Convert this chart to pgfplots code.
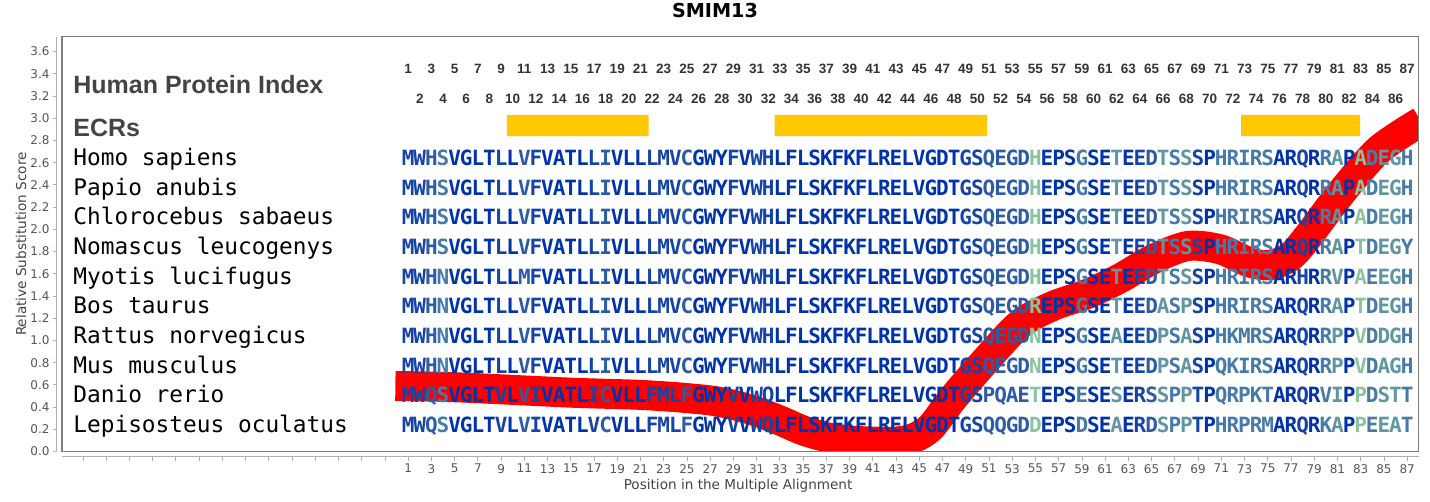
\documentclass[border=0pt]{standalone}
\usepackage{pgfplots}
\pgfplotsset{compat=1.18}
\usepackage{pgfplotstable}
\usepackage{fontspec}
\setmainfont{DejaVu Sans}
\newfontfamily\libsans{Liberation Sans}
\newfontfamily\djsans{DejaVu Sans}
\newfontfamily\djmono{DejaVu Sans Mono}
\definecolor{col0}{RGB}{0,51,170}
\definecolor{col1}{RGB}{22,68,165}
\definecolor{col2}{RGB}{45,92,165}
\definecolor{col3}{RGB}{70,122,168}
\definecolor{col4}{RGB}{96,150,160}
\definecolor{col5}{RGB}{140,195,158}
\definecolor{ecr}{RGB}{255,200,0}
\definecolor{hdr}{RGB}{68,68,68}
\definecolor{idx}{RGB}{51,51,51}
\definecolor{framegray}{RGB}{128,128,128}
\definecolor{axgray}{RGB}{175,175,175}
\definecolor{ticklab}{RGB}{85,85,85}
\newcommand\seqfont{\djmono\bfseries\fontsize{21}{21}\selectfont}
\newcommand\namefont{\djmono\fontsize{22.8}{23}\selectfont}
\newcommand\hdrfont{\libsans\bfseries\fontsize{25}{26}\selectfont}
\newcommand\idxfont{\libsans\bfseries\fontsize{13.5}{14}\selectfont}

\pgfplotstableread{
pos cls iy s1 s2 s3 s4 s5 s6 s7 s8 s9 s10
1 1 3.405 M M M M M M M M M M
2 1 3.135 W W W W W W W W W W
3 2 3.405 H H H H H H H H Q Q
4 3 3.135 S S S S N N N N S S
5 0 3.405 V V V V V V V V V V
6 0 3.135 G G G G G G G G G G
7 0 3.405 L L L L L L L L L L
8 0 3.135 T T T T T T T T T T
9 1 3.405 L L L L L L L L V V
10 0 3.135 L L L L L L L L L L
11 2 3.405 V V V V M V V V V V
12 1 3.135 F F F F F F F F I I
13 0 3.405 V V V V V V V V V V
14 0 3.135 A A A A A A A A A A
15 0 3.405 T T T T T T T T T T
16 0 3.135 L L L L L L L L L L
17 1 3.405 L L L L L L L L I V
18 2 3.135 I I I I I I I I C C
19 0 3.405 V V V V V V V V V V
20 0 3.135 L L L L L L L L L L
21 0 3.405 L L L L L L L L L L
22 1 3.135 L L L L L L L L F F
23 1 3.405 M M M M M M M M M M
24 1 3.135 V V V V V V V V L L
25 2 3.405 C C C C C C C C F F
26 0 3.135 G G G G G G G G G G
27 0 3.405 W W W W W W W W W W
28 0 3.135 Y Y Y Y Y Y Y Y Y Y
29 1 3.405 F F F F F F F F V V
30 0 3.135 V V V V V V V V V V
31 1 3.405 W W W W W W W W W W
32 1 3.135 H H H H H H H H Q Q
33 0 3.405 L L L L L L L L L L
34 0 3.135 F F F F F F F F F F
35 0 3.405 L L L L L L L L L L
36 0 3.135 S S S S S S S S S S
37 0 3.405 K K K K K K K K K K
38 0 3.135 F F F F F F F F F F
39 0 3.405 K K K K K K K K K K
40 0 3.135 F F F F F F F F F F
41 0 3.405 L L L L L L L L L L
42 0 3.135 R R R R R R R R R R
43 0 3.405 E E E E E E E E E E
44 0 3.135 L L L L L L L L L L
45 0 3.405 V V V V V V V V V V
46 0 3.135 G G G G G G G G G G
47 0 3.405 D D D D D D D D D D
48 0 3.135 T T T T T T T T T T
49 1 3.405 G G G G G G G G G G
50 1 3.135 S S S S S S S S S S
51 2 3.405 Q Q Q Q Q Q Q Q P Q
52 2 3.135 E E E E E E E E Q Q
53 2 3.405 G G G G G G G G A G
54 2 3.135 D D D D D D D D E D
55 5 3.405 H H H H H R N N T D
56 0 3.135 E E E E E E E E E E
57 0 3.405 P P P P P P P P P P
58 0 3.135 S S S S S S S S S S
59 3 3.405 G G G G G G G G E D
60 0 3.135 S S S S S S S S S S
61 0 3.405 E E E E E E E E E E
62 4 3.135 T T T T T T A T S A
63 0 3.405 E E E E E E E E E E
64 1 3.135 E E E E E E E E R R
65 2 3.405 D D D D D D D D S D
66 4 3.135 T T T T T A P P S S
67 3 3.405 S S S S S S S S P P
68 4 3.135 S S S S S P A A P P
69 1 3.405 S S S S S S S S T T
70 0 3.135 P P P P P P P P P P
71 3 3.405 H H H H H H H Q Q H
72 3 3.135 R R R R R R K K R R
73 3 3.405 I I I I I I M I P P
74 3 3.135 R R R R R R R R K R
75 3 3.405 S S S S S S S S T M
76 0 3.135 A A A A A A A A A A
77 0 3.405 R R R R R R R R R R
78 1 3.135 Q Q Q Q H Q Q Q Q Q
79 0 3.405 R R R R R R R R R R
80 3 3.135 R R R R R R R R V K
81 4 3.405 A A A A V A P P I A
82 0 3.135 P P P P P P P P P P
83 5 3.405 A A A T A T V V P P
84 3 3.135 D D D D E D D D D E
85 4 3.405 E E E E E E D A S E
86 4 3.135 G G G G G G G G T A
87 3 3.405 H H H Y H H H H T T
}\seqtab

\pgfplotstableset{
  create on use/y1/.style={create col/set={2.574}},
  create on use/y2/.style={create col/set={2.307}},
  create on use/y3/.style={create col/set={2.040}},
  create on use/y4/.style={create col/set={1.773}},
  create on use/y5/.style={create col/set={1.506}},
  create on use/y6/.style={create col/set={1.240}},
  create on use/y7/.style={create col/set={0.973}},
  create on use/y8/.style={create col/set={0.706}},
  create on use/y9/.style={create col/set={0.439}},
  create on use/y10/.style={create col/set={0.172}},
}

\newcommand\seqletter[1]{\pgfplotstablegetelem{#1}{cls}\of\seqtab\textcolor{col\pgfplotsretval}{\pgfplotspointmeta}}

\pgfplotsset{
  seqrow/.style={
    draw=none, mark=none,
    point meta=explicit symbolic,
    visualization depends on={value \coordindex \as \myidx},
    nodes near coords={\seqletter{\myidx}},
    nodes near coords style={anchor=base, inner sep=0pt, font=\seqfont},
  },
}

\begin{document}
\begin{tikzpicture}
\begin{axis}[
  x=11.616pt, y=111.11pt,
  xmin=-28.8, xmax=88, ymin=0, ymax=3.735,
  axis lines=left,
  axis line style={-, draw=axgray, line width=1pt},
  axis line shift=5pt,
  xtick={1,3,...,87},
  minor xtick={-27,-25,...,-1},
  ytick={0,0.2,0.4,0.6,0.8,1.0,1.2,1.4,1.6,1.8,2.0,2.2,2.4,2.6,2.8,3.0,3.2,3.4,3.6},
  tick align=outside,
  major tick length=4pt, minor tick length=4pt,
  tick style={draw=axgray, line width=0.8pt},
  tick label style={font=\djsans\fontsize{12}{12}\selectfont, text=ticklab},
  /pgf/number format/assume math mode=true,
  yticklabel style={/pgf/number format/.cd, fixed, fixed zerofill, precision=1},
  xlabel={Position in the Multiple Alignment},
  ylabel={Relative Substitution Score},
  label style={font=\djsans\fontsize{13.6}{14}\selectfont, text=hdr},
  xlabel style={at={(axis description cs:0.4983,-0.0916)}, anchor=base},
  ylabel style={at={(axis description cs:-0.0265,0.5)}, anchor=base},
  title={SMIM13},
  title style={at={(axis description cs:0.4813,1.0313)}, anchor=base, font=\djsans\bfseries\fontsize{19.2}{20}\selectfont},
  clip=true,
  after end axis/.code={\draw[framegray, line width=1.3pt] (rel axis cs:0,0) rectangle (rel axis cs:1,1);},
]
% ECR bars
\addplot[fill=ecr, draw=none] coordinates {(9.5,2.84) (21.7,2.84) (21.7,3.03) (9.5,3.03) (9.5,2.84)};
\addplot[fill=ecr, draw=none] coordinates {(32.55,2.84) (50.85,2.84) (50.85,3.03) (32.55,3.03) (32.55,2.84)};
\addplot[fill=ecr, draw=none] coordinates {(72.7,2.84) (82.95,2.84) (82.95,3.03) (72.7,3.03) (72.7,2.84)};
% relative substitution score
\addplot[red, line width=30pt, smooth] table {
x y
-0.1 0.59
3 0.585
6 0.575
9 0.56
12 0.545
15 0.53
18 0.52
21 0.51
24 0.49
27 0.46
29 0.42
31 0.36
33 0.28
35 0.19
37 0.13
39 0.10
41 0.09
43 0.09
44.5 0.12
46 0.22
47.9 0.48
50.8 0.83
53.7 1.15
56.5 1.31
59.5 1.42
62.3 1.56
65.1 1.73
68.1 1.85
70.9 1.82
73.5 1.70
75.3 1.68
77 1.76
78.5 1.94
80.5 2.22
82.5 2.48
84.5 2.71
86.5 2.86
88.2 2.97
};
% human protein index
\addplot[draw=none, mark=none, point meta=explicit symbolic, nodes near coords,
  nodes near coords style={anchor=base, inner sep=0pt, font=\idxfont, text=idx}]
  table[x=pos, y=iy, meta=pos] {\seqtab};
% sequences
\addplot[seqrow] table[x=pos, y=y1, meta=s1] {\seqtab};
\addplot[seqrow] table[x=pos, y=y2, meta=s2] {\seqtab};
\addplot[seqrow] table[x=pos, y=y3, meta=s3] {\seqtab};
\addplot[seqrow] table[x=pos, y=y4, meta=s4] {\seqtab};
\addplot[seqrow] table[x=pos, y=y5, meta=s5] {\seqtab};
\addplot[seqrow] table[x=pos, y=y6, meta=s6] {\seqtab};
\addplot[seqrow] table[x=pos, y=y7, meta=s7] {\seqtab};
\addplot[seqrow] table[x=pos, y=y8, meta=s8] {\seqtab};
\addplot[seqrow] table[x=pos, y=y9, meta=s9] {\seqtab};
\addplot[seqrow] table[x=pos, y=y10, meta=s10] {\seqtab};
% row headers
\node[anchor=base west, font=\hdrfont, text=hdr, inner sep=0pt] at (axis cs:-27.84,3.222) {Human Protein Index};
\node[anchor=base west, font=\hdrfont, text=hdr, inner sep=0pt] at (axis cs:-27.84,2.835) {ECRs};
\node[anchor=base west, font=\namefont, inner sep=0pt] at (axis cs:-27.84,2.574) {Homo sapiens};
\node[anchor=base west, font=\namefont, inner sep=0pt] at (axis cs:-27.84,2.307) {Papio anubis};
\node[anchor=base west, font=\namefont, inner sep=0pt] at (axis cs:-27.84,2.040) {Chlorocebus sabaeus};
\node[anchor=base west, font=\namefont, inner sep=0pt] at (axis cs:-27.84,1.773) {Nomascus leucogenys};
\node[anchor=base west, font=\namefont, inner sep=0pt] at (axis cs:-27.84,1.506) {Myotis lucifugus};
\node[anchor=base west, font=\namefont, inner sep=0pt] at (axis cs:-27.84,1.240) {Bos taurus};
\node[anchor=base west, font=\namefont, inner sep=0pt] at (axis cs:-27.84,0.973) {Rattus norvegicus};
\node[anchor=base west, font=\namefont, inner sep=0pt] at (axis cs:-27.84,0.706) {Mus musculus};
\node[anchor=base west, font=\namefont, inner sep=0pt] at (axis cs:-27.84,0.439) {Danio rerio};
\node[anchor=base west, font=\namefont, inner sep=0pt] at (axis cs:-27.84,0.172) {Lepisosteus oculatus};
\end{axis}
\path (-62pt,-50pt) rectangle (1368pt,450pt);
\end{tikzpicture}
\end{document}
